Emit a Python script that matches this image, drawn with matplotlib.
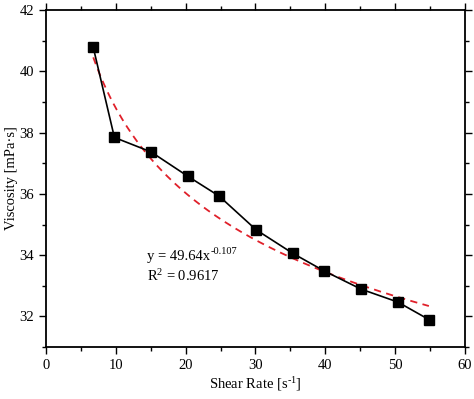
import numpy as np
import matplotlib
matplotlib.use("Agg")
import matplotlib.pyplot as plt
from matplotlib.ticker import MultipleLocator

shear_rate = [6.77, 9.8, 15.04, 20.34, 24.78, 30.08, 35.34, 39.8, 45.14, 50.39, 54.83]
viscosity = [40.78, 37.84, 37.37, 36.57, 35.93, 34.83, 34.06, 33.49, 32.89, 32.47, 31.90]
fit_a = 49.64
fit_b = -0.107
r2 = 0.9617

plt.rcParams['font.family'] = ['Liberation Serif', 'DejaVu Serif']
plt.rcParams['mathtext.fontset'] = 'custom'
plt.rcParams['mathtext.rm'] = 'Liberation Serif'
plt.rcParams['mathtext.it'] = 'Liberation Serif:italic'

fig = plt.figure(figsize=(4.74, 3.99), dpi=100)
ax = fig.add_axes([0.097, 0.130, 0.884, 0.845])

xf = np.linspace(min(shear_rate), max(shear_rate), 200)
ax.plot(xf, fit_a * xf ** fit_b, color='#e0202a', lw=1.3, ls=(0, (4, 3)), zorder=2)
ax.plot(shear_rate, viscosity, color='black', lw=1.2, marker='s', ms=6.8, zorder=3)

ax.set_xlim(0, 60)
ax.set_ylim(31, 42)
ax.xaxis.set_major_locator(MultipleLocator(10))
ax.xaxis.set_minor_locator(MultipleLocator(5))
ax.yaxis.set_major_locator(MultipleLocator(2))
ax.yaxis.set_minor_locator(MultipleLocator(1))
ax.tick_params(which='both', direction='out', top=True, right=True, labelsize=10.5, width=1.0)
ax.tick_params(which='major', length=5)
ax.tick_params(which='minor', length=3)
for s in ax.spines.values():
    s.set_linewidth(1.3)

ax.set_xlabel(r'Shear Rate [s$^{\text{-1}}$]', fontsize=10.5, labelpad=2)
ax.set_ylabel('Viscosity [mPa\u00b7s]', fontsize=10.5, labelpad=1)

t = ax.text(14.4, 33.85, f'y = {fit_a:.2f}x', fontsize=10.5)
ax.annotate(f'{fit_b}', xy=(1, 1), xycoords=t, xytext=(0.5, 2), textcoords='offset points',
            va='top', ha='left', fontsize=7.5)
ax.text(14.4, 33.15, r'R$^{\text{2}}$ = ' + f'{r2}', fontsize=10.5)

fig.savefig('out.png', dpi=100)
